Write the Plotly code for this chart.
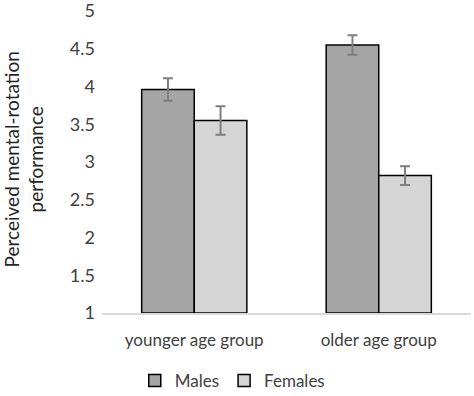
import plotly.graph_objects as go

categories = ["younger age group", "older age group"]
males = [3.96, 4.55]
males_err = [0.15, 0.13]
females = [3.55, 2.82]
females_err = [0.19, 0.125]

FONT = "Lato, Open Sans, sans-serif"

fig = go.Figure()
fig.add_trace(go.Bar(
    name="Males", x=categories, y=[v - 1 for v in males], base=1,
    marker=dict(color="#a5a5a5", line=dict(color="black", width=1.5)),
    error_y=dict(type="data", array=males_err, color="#7f7f7f", thickness=2, width=5),
))
fig.add_trace(go.Bar(
    name="Females", x=categories, y=[v - 1 for v in females], base=1,
    marker=dict(color="#d5d5d5", line=dict(color="black", width=1.5)),
    error_y=dict(type="data", array=females_err, color="#7f7f7f", thickness=2, width=5),
))

fig.update_layout(
    width=474, height=396,
    margin=dict(l=102, r=3, t=11, b=83, autoexpand=False),
    paper_bgcolor="white", plot_bgcolor="white",
    barmode="group", bargap=0.43, bargroupgap=0,
    font=dict(family=FONT, size=17, color="#404040"),
    showlegend=True,
    legend=dict(orientation="h", xref="container", yref="container",
                x=0.49, xanchor="center", y=0.038, yanchor="middle",
                font=dict(size=17, color="#404040"), traceorder="normal",
                itemwidth=30),
    xaxis=dict(showline=True, linecolor="#d9d9d9", linewidth=1.5, ticks="",
               automargin=False, ticklabelstandoff=11,
               tickfont=dict(size=17, color="#404040")),
    yaxis=dict(range=[1, 5], tickvals=[1, 1.5, 2, 2.5, 3, 3.5, 4, 4.5, 5],
               ticktext=["1", "1.5", "2", "2.5", "3", "3.5", "4", "4.5", "5"],
               showgrid=False, showline=False, zeroline=False,
               automargin=False, ticklabeloverflow="allow",
               tickfont=dict(size=18, color="#404040"), ticklabelstandoff=6),
    annotations=[dict(
        text="Perceived mental-rotation<br>performance",
        xref="paper", yref="paper", x=-0.2127, y=0.507,
        xanchor="center", yanchor="middle", textangle=-90, showarrow=False,
        font=dict(size=19, color="#262626"),
    )],
)

fig.write_html("out.html", config={"displayModeBar": False},
               post_script="document.body.style.margin='0';")
